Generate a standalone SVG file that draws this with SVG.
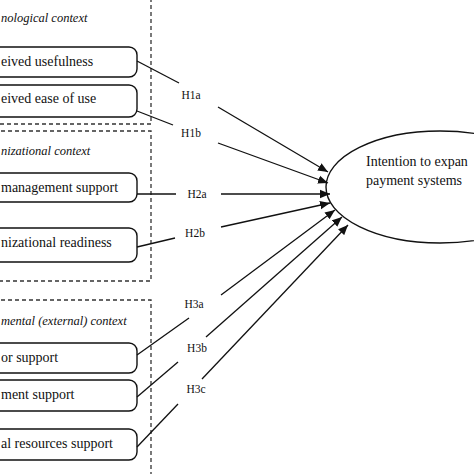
<svg xmlns="http://www.w3.org/2000/svg" width="474" height="474" viewBox="0 0 474 474">
<defs>
<marker id="arr" viewBox="0 0 10 10" refX="10" refY="5" markerWidth="10" markerHeight="10" markerUnits="userSpaceOnUse" orient="auto">
<path d="M0,0.8 L10,5 L0,9.2 Z" fill="#111"/>
</marker>
<style>
.ctx{fill:none;stroke:#333;stroke-width:1.3;stroke-dasharray:4 3}
.box{fill:#fff;stroke:#111;stroke-width:1.4}
.t{font-family:"Liberation Serif","Times New Roman",serif;font-size:14px;fill:#111}
.ct{font-family:"Liberation Serif","Times New Roman",serif;font-size:12.5px;font-style:italic;fill:#111}
.h{font-family:"Liberation Serif","Times New Roman",serif;font-size:11.5px;fill:#111;text-anchor:middle}
.ln{fill:none;stroke:#111;stroke-width:1.3}
.ar{fill:none;stroke:#111;stroke-width:1.3;marker-end:url(#arr)}
</style>
</defs>
<rect width="474" height="474" fill="#fff"/>
<g id="context-technological">
<rect class="ctx" x="-20" y="-20" width="171" height="144"/>
<text class="ct" x="1" y="22">nological context</text>
</g>
<g id="context-organizational">
<rect class="ctx" x="-20" y="131" width="171" height="150"/>
<text class="ct" x="1" y="155">nizational context</text>
</g>
<g id="context-environmental">
<rect class="ctx" x="-20" y="300" width="171" height="200"/>
<text class="ct" x="1" y="325">mental (external) context</text>
</g>
<g id="node-usefulness">
<rect class="box" x="-40" y="47" width="177" height="30" rx="8"/>
<text class="t" x="1" y="66">eived usefulness</text>
</g>
<g id="node-ease">
<rect class="box" x="-40" y="85" width="177" height="32" rx="8"/>
<text class="t" x="1" y="103">eived ease of use</text>
</g>
<g id="node-management">
<rect class="box" x="-40" y="173" width="177" height="29" rx="8"/>
<text class="t" x="1" y="192">management support</text>
</g>
<g id="node-readiness">
<rect class="box" x="-40" y="228" width="177" height="34" rx="8"/>
<text class="t" x="1" y="247">nizational readiness</text>
</g>
<g id="node-vendor">
<rect class="box" x="-40" y="343" width="177" height="30" rx="8"/>
<text class="t" x="1" y="362">or support</text>
</g>
<g id="node-government">
<rect class="box" x="-40" y="380" width="177" height="31" rx="8"/>
<text class="t" x="1" y="399">ment support</text>
</g>
<g id="node-external">
<rect class="box" x="-40" y="429" width="177" height="31" rx="8"/>
<text class="t" x="1" y="448">al resources support</text>
</g>
<g id="node-intention">
<ellipse cx="440" cy="187" rx="114" ry="56" fill="#fff" stroke="#111" stroke-width="1.4"/>
<text class="t" x="366" y="166">Intention to expan</text>
<text class="t" x="366" y="185">payment systems</text>
</g>
<g id="connectors">
<line class="ln" x1="137" y1="61" x2="179" y2="83"/>
<line class="ar" x1="218" y1="107" x2="328" y2="172"/>
<line class="ln" x1="137" y1="111" x2="173" y2="125"/>
<line class="ar" x1="218" y1="143" x2="328" y2="183"/>
<line class="ln" x1="137" y1="194" x2="176" y2="194"/>
<line class="ar" x1="221" y1="194" x2="330" y2="194"/>
<line class="ln" x1="137" y1="247" x2="175" y2="238"/>
<line class="ar" x1="221" y1="227" x2="330" y2="203"/>
<line class="ln" x1="137" y1="355" x2="189" y2="318"/>
<line class="ar" x1="221" y1="295" x2="335" y2="210"/>
<line class="ln" x1="137" y1="397" x2="178" y2="362"/>
<line class="ar" x1="206" y1="337" x2="342" y2="217"/>
<line class="ln" x1="137" y1="447" x2="178" y2="404"/>
<line class="ar" x1="202" y1="379" x2="348" y2="225"/>
</g>
<g id="labels">
<text class="h" x="191" y="99">H1a</text>
<text class="h" x="191" y="137">H1b</text>
<text class="h" x="197" y="198">H2a</text>
<text class="h" x="195" y="237">H2b</text>
<text class="h" x="194" y="308">H3a</text>
<text class="h" x="197" y="352">H3b</text>
<text class="h" x="196" y="393">H3c</text>
</g>
</svg>
